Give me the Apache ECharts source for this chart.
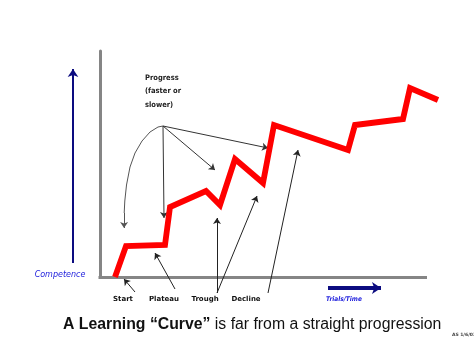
<!DOCTYPE html>
<html>
<head>
<meta charset="utf-8">
<script src="https://cdn.jsdelivr.net/npm/echarts@6/dist/echarts.min.js"></script>
<style>
  html, body { margin: 0; padding: 0; background: #fff; }
  #chart { width: 474px; height: 355px; }
</style>
</head>
<body>
<div id="chart"></div>
<script>
// learning curve, x = trials/time, y = competence (arbitrary units)
const curveX = [15, 26, 65, 70, 106, 120, 135, 163, 174, 248, 255, 303, 310, 338];
const curveY = [0, 31, 32, 70, 86, 72, 118, 94, 152, 127, 152, 158, 189, 177];
const axisEndX = 327;   // where the drawn time axis stops

// annotation arrows (tail -> head), same units as the axes
const progressFrom = [63, 151];
const progressTo = [[64, 59], [115, 107], [168, 129]];
// curved arrow, last piece carries the head
const progressCurve = [[63, 151], [58, 150], [50, 145], [42, 136], [35, 124], [30, 110], [26.5, 92], [24.8, 76], [24.2, 64]];
const progressCurveHead = [[24.2, 64], [24, 49]];
const stageArrows = [
  [[35, -15], [24, -2]],     // Start
  [[75, -12], [55, 24]],     // Plateau
  [[117, -16], [117, 59]],   // Trough
  [[117, -16], [157, 81]],   // Trough
  [[168, -16], [198, 127]]   // Decline
];
const stageLabels = ['Start', 'Plateau', 'Trough', 'Decline'];
const stageLabelX = [123, 164, 205, 246];

const chart = echarts.init(document.getElementById('chart'));

const arrowSeries = (data, color, width, size) => ({
  type: 'lines',
  coordinateSystem: 'cartesian2d',
  clip: false,
  silent: true,
  symbol: ['none', 'arrow'],
  symbolSize: size,
  lineStyle: { color: color, width: width, opacity: 1 },
  data: data.map(c => ({ coords: c }))
});

chart.setOption({
  animation: false,
  grid: { left: 100, right: 24, top: 51, bottom: 78 },
  xAxis: {
    type: 'value', min: 0, max: 350,
    axisLine: { show: false },
    axisTick: { show: false }, axisLabel: { show: false }, splitLine: { show: false }
  },
  yAxis: {
    type: 'value', min: 0, max: 226,
    axisLine: { show: true, lineStyle: { color: '#858585', width: 3 } },
    axisTick: { show: false }, axisLabel: { show: false }, splitLine: { show: false }
  },
  title: {
    left: 58, top: 312,
    text: '{b|A Learning “Curve”} is far from a straight progression',
    textStyle: {
      fontFamily: 'Liberation Sans', fontSize: 15.8, fontWeight: 'normal', color: '#111',
      rich: { b: { fontFamily: 'Liberation Sans', fontSize: 15.8, fontWeight: 'bold', color: '#111' } }
    }
  },
  graphic: [
    ...['Progress', '(faster or', 'slower)'].map((t, i) => ({
      type: 'text', left: 145, top: 74 + i * 13.5,
      style: { text: t, font: 'bold 7.5px "DejaVu Sans Condensed", "DejaVu Sans"', fill: '#222' }
    })),
    ...stageLabels.map((t, i) => ({
      type: 'text', x: stageLabelX[i], y: 299,
      style: { text: t, font: 'bold 7px "DejaVu Sans"', fill: '#111', align: 'center', verticalAlign: 'middle' }
    })),
    {
      type: 'text', x: 60, y: 275,
      style: { text: 'Competence', font: 'italic 8px "DejaVu Sans"', fill: '#2222dd', align: 'center', verticalAlign: 'middle' }
    },
    {
      type: 'text', x: 344, y: 299,
      style: { text: 'Trials/Time', font: 'italic bold 6.5px "DejaVu Sans Condensed", "DejaVu Sans"', fill: '#2222dd', align: 'center', verticalAlign: 'middle' }
    },
    {
      type: 'text', x: 464, y: 335,
      style: { text: 'AS 1/6/03', font: 'bold 4.5px "DejaVu Sans"', fill: '#444', align: 'center', verticalAlign: 'middle' }
    }
  ],
  series: [
    // time axis, stops short of the grid edge
    {
      type: 'lines', coordinateSystem: 'cartesian2d', clip: false, silent: true,
      lineStyle: { color: '#858585', width: 3, opacity: 1 },
      data: [{ coords: [[-1.5, 0], [axisEndX, 0]] }]
    },
    {
      type: 'line',
      clip: false,
      silent: true,
      symbol: 'none',
      data: curveX.map((x, i) => [x, curveY[i]]),
      lineStyle: { color: '#ff0000', width: 5.8, cap: 'butt', join: 'miter' }
    },
    {
      type: 'lines', coordinateSystem: 'cartesian2d', polyline: true, clip: false, silent: true,
      lineStyle: { color: '#555', width: 1, opacity: 1 },
      data: [{ coords: progressCurve }]
    },
    arrowSeries([progressCurveHead], '#555', 1, 6),
    arrowSeries(progressTo.map(p => [progressFrom, p]), '#333', 1, 6),
    arrowSeries(stageArrows, '#222', 1, 6),
    // blue axis arrows
    arrowSeries([[[-27, 14], [-27, 208]]], '#0c0c80', 2, 8),
    arrowSeries([[[228, -11], [281, -11]]], '#0c0c80', 4, 9)
  ]
});
</script>
</body>
</html>
